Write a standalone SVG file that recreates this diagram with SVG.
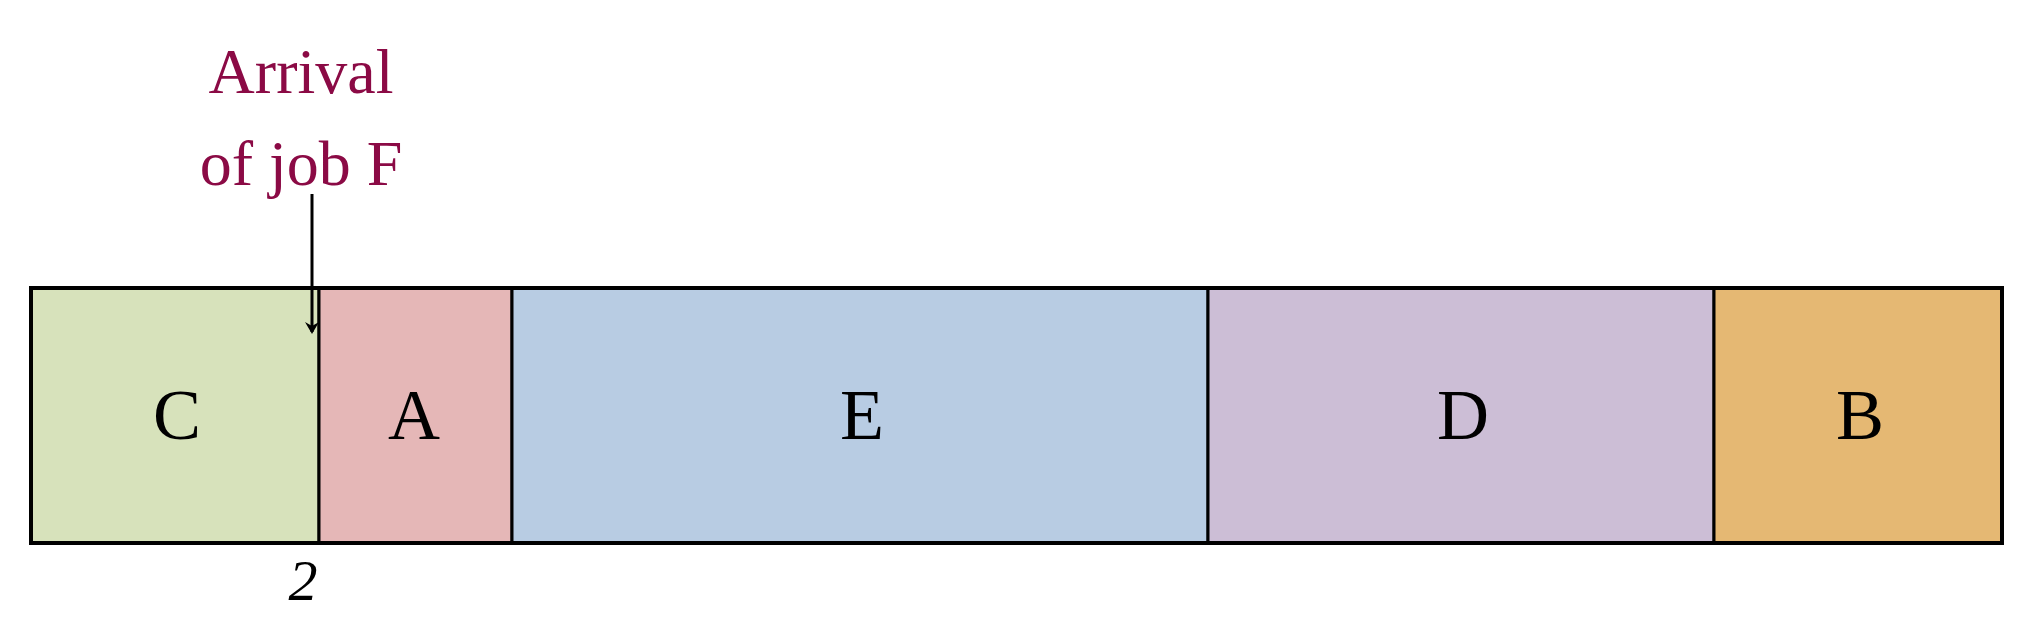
<svg xmlns="http://www.w3.org/2000/svg" width="2024" height="640" viewBox="0 0 2024 640">
<style>
.b{stroke:#000;stroke-width:3}
.l{font-family:"Liberation Serif",serif;font-size:72px;text-anchor:middle;fill:#000}
.r{font-family:"Liberation Serif",serif;font-size:64px;text-anchor:middle;fill:#8b0a45}
</style>
<defs><marker id="ah" markerWidth="12" markerHeight="14" refX="10" refY="7" orient="auto" markerUnits="userSpaceOnUse" viewBox="0 0 12 14"><path d="M0,0 L12,7 L0,14 L4,7 Z" fill="#000"/></marker></defs>
<rect width="2024" height="640" fill="#fff"/>
<g id="C"><rect class="b" x="31" y="288" width="288" height="255" fill="#d7e2bb"/><text class="l" x="177" y="439">C</text></g>
<g id="A"><rect class="b" x="319" y="288" width="193" height="255" fill="#e5b7b7"/><text class="l" x="414" y="439">A</text></g>
<g id="E"><rect class="b" x="512" y="288" width="696" height="255" fill="#b8cce3"/><text class="l" x="862" y="439">E</text></g>
<g id="D"><rect class="b" x="1208" y="288" width="506" height="255" fill="#ccbed6"/><text class="l" x="1463" y="439">D</text></g>
<g id="B"><rect class="b" x="1714" y="288" width="288" height="255" fill="#e5b873"/><text class="l" x="1860" y="439">B</text></g>
<rect x="31" y="288" width="1971" height="255" fill="none" stroke="#000" stroke-width="4"/>
<g id="label"><text class="r" x="301" y="93">Arrival</text><text class="r" x="301" y="185">of job F</text></g>
<g id="connectors"><line x1="312" y1="194" x2="312" y2="332" stroke="#000" stroke-width="3" marker-end="url(#ah)"/></g>
<text x="303" y="600" font-family="Liberation Serif,serif" font-style="italic" font-size="58" text-anchor="middle">2</text>
</svg>
